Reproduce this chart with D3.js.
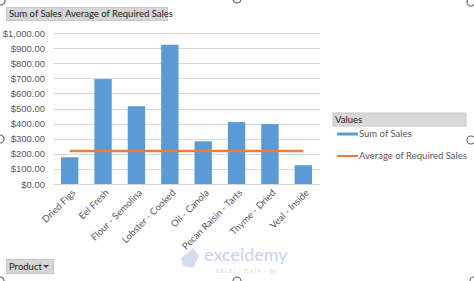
<html>
<head>
  <meta charset="utf-8">
  <style type="text/css">
    body { margin: 0; background: #fff; }
    svg { font-family: Lato, "Open Sans", sans-serif; }
    .axis text { fill: #595959; font-size: 9.5px; }
    .axis path, .axis line { stroke: none; }
    .grid line { stroke: #d9d9d9; stroke-width: 1; }
    .btn rect { fill: #d6d6d6; stroke: #c8c8c8; }
    .btn text { fill: #222; font-size: 9.5px; }
  </style>
</head>
<body>
<script src="https://d3js.org/d3.v7.min.js"></script>
<script>
  var products = ["Dried Figs", "Eel Fresh", "Flour - Semolina", "Lobster - Cooked",
    "Oil - Canola", "Pecan Raisin - Tarts", "Thyme - Dried", "Veal - Inside"];
  var sumOfSales = [177, 695, 515, 922, 283, 410, 397, 124];
  var avgRequired = [218, 218, 218, 218, 218, 218, 218, 218];
  var yTicks = [0, 100, 200, 300, 400, 500, 600, 700, 800, 900, 1000];

  var width = 474, height = 281;
  var plot = { left: 53, right: 320, top: 33, bottom: 184 };

  var svg = d3.select("body").append("svg")
    .attr("width", width)
    .attr("height", height);

  var x = d3.scaleBand()
    .domain(products)
    .range([plot.left, plot.right])
    .paddingInner(0.48)
    .paddingOuter(0.24);

  var y = d3.scaleLinear()
    .domain([0, 1000])
    .range([plot.bottom, plot.top]);

  var fmt = d3.format("$,.2f");

  // gridlines
  svg.append("g").attr("class", "grid")
    .selectAll("line")
    .data(yTicks)
    .enter().append("line")
    .attr("x1", plot.left).attr("x2", plot.right)
    .attr("y1", function (d) { return Math.round(y(d)) + 0.5; })
    .attr("y2", function (d) { return Math.round(y(d)) + 0.5; });

  svg.append("g")
    .attr("class", "axis")
    .attr("transform", "translate(" + (plot.left - 8) + ",0)")
    .call(d3.axisLeft(y).tickValues(yTicks).tickFormat(fmt).tickSize(0).tickPadding(0));

  // bars
  svg.append("g").selectAll("rect")
    .data(sumOfSales)
    .enter().append("rect")
    .attr("x", function (d, i) { return x(products[i]); })
    .attr("width", x.bandwidth())
    .attr("y", function (d) { return y(d); })
    .attr("height", function (d) { return y(0) - y(d); })
    .attr("fill", "#5b9bd5");

  // average line
  var line = d3.line()
    .x(function (d, i) { return x(products[i]) + x.bandwidth() / 2; })
    .y(function (d) { return y(d); });
  svg.append("path")
    .datum(avgRequired)
    .attr("d", line)
    .attr("fill", "none")
    .attr("stroke", "#ed7d31")
    .attr("stroke-width", 2.5);

  // x labels
  svg.append("g").attr("class", "axis")
    .selectAll("text")
    .data(products)
    .enter().append("text")
    .attr("transform", function (d) {
      return "translate(" + (x(d) + x.bandwidth() / 2 + 4) + "," + (plot.bottom + 7) + ") rotate(-45)";
    })
    .attr("text-anchor", "end")
    .attr("dy", "0.35em")
    .text(function (d) { return d; });

  // field buttons
  function button(x0, y0, w, h, label, arrow) {
    var g = svg.append("g").attr("class", "btn");
    g.append("rect").attr("x", x0 + 0.5).attr("y", y0 + 0.5).attr("width", w).attr("height", h);
    g.append("text").attr("x", x0 + 3).attr("y", y0 + h / 2 + 3.5).text(label);
    if (arrow) {
      g.append("path")
        .attr("d", "M" + (x0 + w - 10) + "," + (y0 + h / 2 - 1) + "l6,0l-3,3z")
        .attr("fill", "#444");
    }
  }
  button(6, 7, 55, 13, "Sum of Sales");
  button(62, 7, 105, 13, "Average of Required Sales");
  button(6, 259, 47, 14, "Product", true);

  // legend
  var lg = svg.append("g");
  lg.append("rect").attr("x", 333).attr("y", 113).attr("width", 133).attr("height", 13)
    .attr("fill", "#d9d9d9").attr("stroke", "#c8c8c8");
  lg.append("text").attr("x", 335).attr("y", 123).attr("font-size", 9.5).attr("fill", "#222").text("Values");
  var legendItems = [
    { name: "Sum of Sales", color: "#5b9bd5", w: 3 },
    { name: "Average of Required Sales", color: "#ed7d31", w: 2 }
  ];
  lg.selectAll("g.item")
    .data(legendItems)
    .enter().append("g")
    .each(function (d, i) {
      var g = d3.select(this);
      var yy = 134 + i * 22;
      g.append("line").attr("x1", 337).attr("x2", 358).attr("y1", yy).attr("y2", yy)
        .attr("stroke", d.color).attr("stroke-width", d.w);
      g.append("text").attr("x", 359).attr("y", yy + 3).attr("font-size", 9.5)
        .attr("fill", "#595959").text(d.name);
    });

  // watermark
  var wm = svg.append("g").attr("opacity", 0.45);
  wm.append("path").attr("d", "M181,258 L193,248 L199,256 L193,268 L183,266 Z").attr("fill", "#9fb4d9");
  wm.append("text").attr("x", 204).attr("y", 261).attr("font-size", 18)
    .attr("fill", "#7f9fd4").text("exceldemy");
  wm.append("text").attr("x", 216).attr("y", 273).attr("font-size", 5.5)
    .attr("letter-spacing", 1).attr("fill", "#9aaac4").text("EXCEL · DATA · BI");

  // selection handles
  var handles = [[1, 1], [237, -1], [471, 2], [0, 139], [471, 140], [0, 281], [237, 281], [474, 281]];
  svg.append("g").selectAll("circle")
    .data(handles)
    .enter().append("circle")
    .attr("cx", function (d) { return d[0]; })
    .attr("cy", function (d) { return d[1]; })
    .attr("r", 4)
    .attr("fill", "#fff")
    .attr("stroke", "#666")
    .attr("stroke-width", 1.2);
</script>
</body>
</html>
